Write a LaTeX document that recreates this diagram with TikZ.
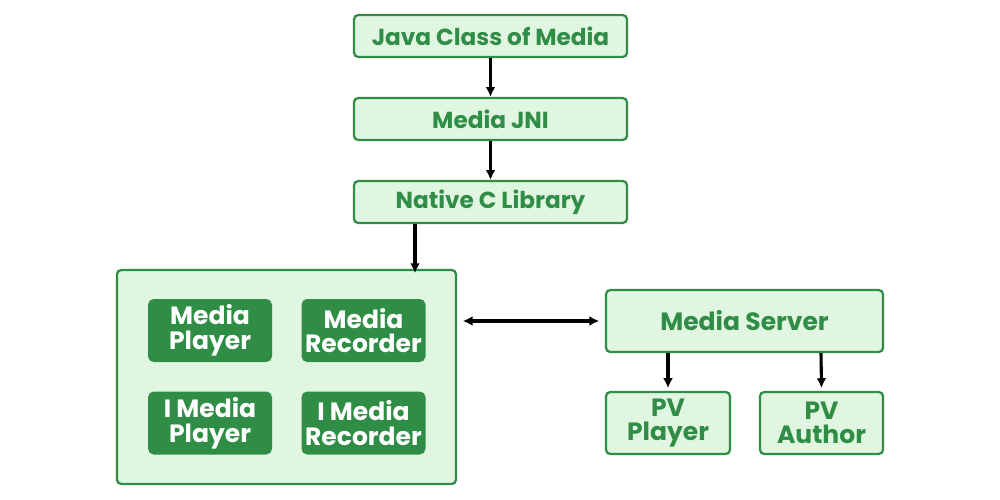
\documentclass[tikz,border=0pt]{standalone}
\usepackage{fontspec}
\setmainfont{Poppins}
\usetikzlibrary{arrows.meta}
\definecolor{gline}{HTML}{2F8D46}
\definecolor{gfill}{HTML}{E1F6E1}
\begin{document}
\begin{tikzpicture}[x=0.025cm,y=-0.025cm,
  lbox/.style={draw=gline,line width=1.6pt,fill=gfill,rounded corners=3pt,text=gline,font=\bfseries\fontsize{16.5}{18}\selectfont,inner sep=0pt},
  dbox/.style={fill=gline,rounded corners=4pt,text=white,font=\fontsize{17.8}{17.5}\selectfont\bfseries,align=center,inner sep=0pt,minimum width=124*0.025cm,minimum height=63*0.025cm},
  tip/.style={Latex[length=7pt,width=7pt]},
  arr/.style={line width=2.2pt,-{Latex[length=7pt,width=7pt]}}]
\useasboundingbox (0,0) rectangle (1000,500);
\node[lbox,minimum width=273*0.025cm,minimum height=42*0.025cm] (java) at (490.5,36) {Java Class of Media};
\node[lbox,minimum width=273*0.025cm,minimum height=42*0.025cm] (jni) at (490.5,119) {Media JNI};
\node[lbox,minimum width=273*0.025cm,minimum height=42*0.025cm] (nat) at (490.5,202) {Native C Library};
\node[lbox,minimum width=339*0.025cm,minimum height=214*0.025cm] (cont) at (286.5,377) {};
\node[dbox] (mp) at (210,330.5) {Media\\Player};
\node[dbox] (mr) at (363.5,330.5) {Media\\Recorder};
\node[dbox] (imp) at (210,423) {I Media\\Player};
\node[dbox] (imr) at (363.5,423) {I Media\\Recorder};
\node[lbox,minimum width=277*0.025cm,minimum height=62*0.025cm,font=\bfseries\fontsize{17.8}{18}\selectfont] (ms) at (744.5,321) {Media Server};
\node[lbox,minimum width=124*0.025cm,minimum height=62*0.025cm,align=center,font=\bfseries\fontsize{17.8}{17.5}\selectfont] (pvp) at (668,423) {PV\\Player};
\node[lbox,minimum width=123*0.025cm,minimum height=62*0.025cm,align=center,font=\bfseries\fontsize{17.8}{17.5}\selectfont] (pva) at (821.5,423) {PV\\Author};
\draw[arr] (java) -- (jni);
\draw[arr] (jni) -- (nat);
\draw[arr] (nat.south -| 415,0) -- ([yshift=-3pt]cont.north -| 415,0);
\draw[line width=2.2pt,{Latex[length=7pt,width=7pt]}-{Latex[length=7pt,width=7pt]}] ([xshift=4pt]cont.east |- 0,321) -- ([xshift=-4pt]ms.west);
\draw[arr] (ms.south -| 668,0) -- ([yshift=2pt]pvp.north);
\draw[arr] (ms.south -| 821,0) -- ([yshift=2pt]pva.north);
\end{tikzpicture}
\end{document}
